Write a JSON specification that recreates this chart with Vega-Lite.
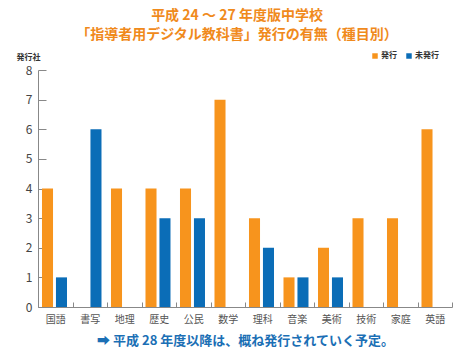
{
  "$schema": "https://vega.github.io/schema/vega-lite/v6.json",
  "width": 414,
  "height": 237,
  "autosize": {"type": "none"},
  "padding": {"left": 38, "top": 70, "right": 22, "bottom": 48},
  "background": "white",
  "config": {"font": "Noto Sans CJK JP", "view": {"stroke": null}},
  "title": {
    "text": ["平成 24 ～ 27 年度版中学校", "「指導者用デジタル教科書」発行の有無（種目別）"],
    "color": "#F08A1C",
    "fontSize": 14,
    "fontWeight": "bold",
    "font": "Noto Sans CJK JP",
    "anchor": "middle",
    "dx": -8,
    "offset": 10,
    "lineHeight": 19
  },
  "data": {
    "values": [
      {"subject": "国語", "status": "発行", "count": 4},
      {"subject": "国語", "status": "未発行", "count": 1},
      {"subject": "書写", "status": "発行", "count": 0},
      {"subject": "書写", "status": "未発行", "count": 6},
      {"subject": "地理", "status": "発行", "count": 4},
      {"subject": "地理", "status": "未発行", "count": 0},
      {"subject": "歴史", "status": "発行", "count": 4},
      {"subject": "歴史", "status": "未発行", "count": 3},
      {"subject": "公民", "status": "発行", "count": 4},
      {"subject": "公民", "status": "未発行", "count": 3},
      {"subject": "数学", "status": "発行", "count": 7},
      {"subject": "数学", "status": "未発行", "count": 0},
      {"subject": "理科", "status": "発行", "count": 3},
      {"subject": "理科", "status": "未発行", "count": 2},
      {"subject": "音楽", "status": "発行", "count": 1},
      {"subject": "音楽", "status": "未発行", "count": 1},
      {"subject": "美術", "status": "発行", "count": 2},
      {"subject": "美術", "status": "未発行", "count": 1},
      {"subject": "技術", "status": "発行", "count": 3},
      {"subject": "技術", "status": "未発行", "count": 0},
      {"subject": "家庭", "status": "発行", "count": 3},
      {"subject": "家庭", "status": "未発行", "count": 0},
      {"subject": "英語", "status": "発行", "count": 6},
      {"subject": "英語", "status": "未発行", "count": 0}
    ]
  },
  "mark": {"type": "bar"},
  "encoding": {
    "x": {
      "field": "subject",
      "type": "nominal",
      "sort": null,
      "scale": {"paddingInner": 0, "paddingOuter": 0},
      "axis": {
        "title": "➡ 平成 28 年度以降は、概ね発行されていく予定。",
        "titleColor": "#1B6FB5",
        "titleFontSize": 13,
        "titleFontWeight": "bold",
        "titlePadding": 10,
        "labelAngle": 0,
        "labelFontSize": 10,
        "labelColor": "#555555",
        "labelPadding": 12,
        "domainColor": "#888888",
        "tickColor": "#888888",
        "tickBand": "extent",
        "tickSize": -5
      }
    },
    "xOffset": {
      "field": "status",
      "type": "nominal",
      "sort": ["発行", "未発行"],
      "scale": {"paddingInner": 0.21, "paddingOuter": 0.34, "align": 0.42}
    },
    "y": {
      "field": "count",
      "type": "quantitative",
      "scale": {"domain": [0, 8]},
      "axis": {
        "values": [0, 1, 2, 3, 4, 5, 6, 7, 8],
        "grid": false,
        "title": "発行社",
        "titleAngle": 0,
        "titleX": -10,
        "titleY": -13,
        "titleAlign": "center",
        "titleBaseline": "middle",
        "titleFontSize": 8,
        "titleFontWeight": "bold",
        "titleColor": "#333333",
        "labelFontSize": 12,
        "labelColor": "#444444",
        "labelPadding": 14,
        "domainColor": "#888888",
        "tickColor": "#888888",
        "tickSize": -8
      }
    },
    "color": {
      "field": "status",
      "type": "nominal",
      "sort": ["発行", "未発行"],
      "scale": {"domain": ["発行", "未発行"], "range": ["#F7941D", "#0B6DB7"]},
      "legend": {
        "title": null,
        "orient": "none",
        "legendX": 333,
        "legendY": -18,
        "direction": "horizontal",
        "symbolType": "square",
        "symbolSize": 30,
        "symbolStrokeWidth": 0,
        "labelFontSize": 8,
        "labelFontWeight": "bold",
        "labelColor": "#333333",
        "labelOffset": 2,
        "columnPadding": 8
      }
    }
  }
}
